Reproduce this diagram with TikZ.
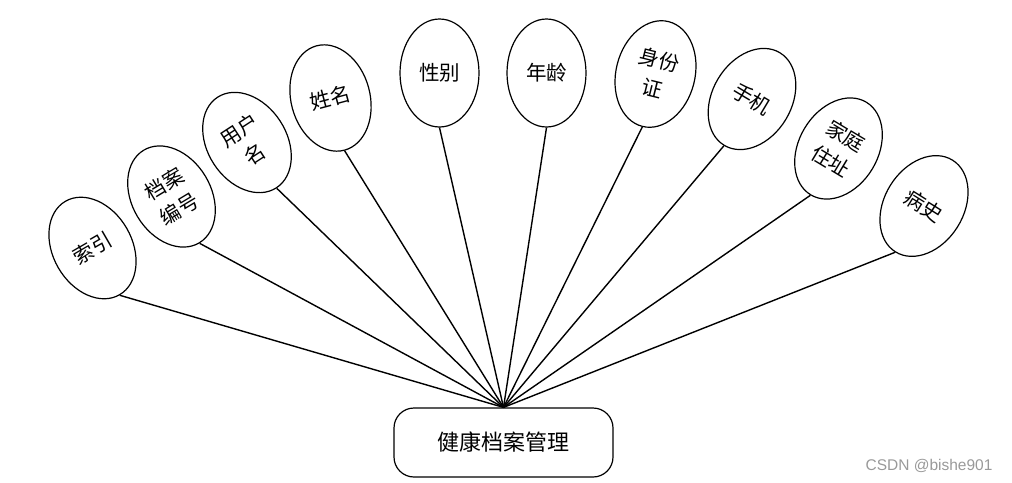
\documentclass[tikz,border=0pt]{standalone}
\usepackage{fontspec}
\newfontfamily\cjk{Noto Sans CJK SC}
\newfontfamily\wmfont{Liberation Sans}
\usetikzlibrary{shapes.geometric}
\begin{document}
\begin{tikzpicture}[x=1pt,y=-1pt,
  attr/.style={draw, ellipse, line width=1.2pt, minimum width=79pt, minimum height=108pt,
    inner sep=0pt, font=\cjk\fontsize{20.5}{29}\selectfont, align=center},
  mainbox/.style={draw, rounded corners=20pt, line width=1.2pt, minimum width=219pt,
    minimum height=69pt, font=\cjk\fontsize{22}{26}\selectfont},
  link/.style={line width=1.4pt}]
\useasboundingbox (0,0) rectangle (1012,482);
\node[attr, rotate=30] (a1) at (92.5,248) {索引};
\node[attr, rotate=31] (a2) at (171.5,196.5) {档案\\编号};
\node[attr, rotate=33] (a3) at (247,142.5) {用户\\名};
\node[attr, rotate=15] (a4) at (330.5,98) {姓名};
\node[attr] (a5) at (439.5,73) {性别};
\node[attr] (a6) at (546.5,73) {年龄};
\node[attr, rotate=-14] (a7) at (655.5,74) {身份\\证};
\node[attr, rotate=-31] (a8) at (752,99) {手机};
\node[attr, rotate=-31] (a9) at (838.5,148.5) {家庭\\住址};
\node[attr, rotate=-32] (a10) at (924,206) {病史};
\node[mainbox] (m) at (503.5,442.5) {健康档案管理};
\foreach \i in {1,...,10} {\draw[link] (a\i.south) -- (m.north);}
\node[font=\wmfont\fontsize{15.5}{18}\selectfont, text=gray!80] (wm) at (929,466) {CSDN @bishe901};
\end{tikzpicture}
\end{document}
